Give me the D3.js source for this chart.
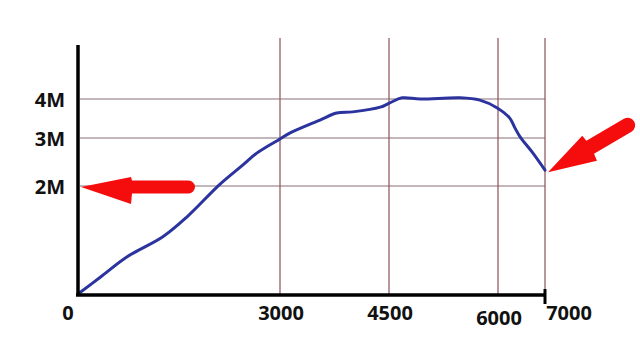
<!DOCTYPE html>
<html>
<head>
<meta charset="utf-8">
<script src="https://cdn.jsdelivr.net/npm/d3@7"></script>
<style>
  html, body { margin: 0; padding: 0; background: #fff; }
  svg { display: block; }
  text { font-family: "Open Sans", "Liberation Sans", sans-serif; font-weight: bold; fill: #111; }
</style>
</head>
<body>
<svg id="chart" width="640" height="360"></svg>
<script>
// data
const rpm = [0, 330, 730, 1260, 1620, 2110, 2450, 2660, 3000, 3140, 3550, 3780, 4000,
  4380, 4510, 4680, 4930, 5480, 5750, 5990, 6250, 6360, 6470, 6740, 7000];
const power = [0, 0.31, 0.69, 1.06, 1.43, 2.04, 2.44, 2.69, 2.98, 3.13, 3.46, 3.64, 3.67,
  3.79, 3.90, 4.03, 4.00, 4.03, 3.97, 3.77, 3.51, 3.26, 3.03, 2.69, 2.33].map(v => v * 1e6);

const xTicks = [0, 3000, 4500, 6000, 7000];
const xTickLabels = ["0", "3000", "4500", "6000", "7000"];
const yTicks = [2e6, 3e6, 4e6];
const yTickLabels = ["2M", "3M", "4M"];

const svg = d3.select("#chart");

// the hand drawn axes are not evenly spaced, so piecewise scales
const x = d3.scaleLinear()
  .domain([0, 3000, 4500, 6000, 7000])
  .range([78, 280, 389, 498, 545]);
const y = d3.scaleLinear()
  .domain([0, 2e6, 3e6, 4e6])
  .range([294, 186, 138, 99]);

const gridTop = 38;

// horizontal grid
svg.append("g")
  .selectAll("line")
  .data(yTicks)
  .join("line")
  .attr("x1", x(0) + 2)
  .attr("x2", x(7000))
  .attr("y1", d => y(d))
  .attr("y2", d => y(d))
  .attr("stroke", "#8a7078")
  .attr("stroke-width", 1.2);

// vertical grid
svg.append("g")
  .selectAll("line")
  .data(xTicks.slice(1))
  .join("line")
  .attr("x1", d => x(d))
  .attr("x2", d => x(d))
  .attr("y1", gridTop)
  .attr("y2", y(0))
  .attr("stroke", "#8a5058")
  .attr("stroke-width", 1.2);

// curve
const pts = rpm.map((r, i) => [r, power[i]]);
svg.append("path")
  .datum(pts)
  .attr("fill", "none")
  .attr("stroke", "#2a339e")
  .attr("stroke-width", 3)
  .attr("stroke-linejoin", "round")
  .attr("stroke-linecap", "round")
  .attr("d", d3.line()
    .x(d => x(d[0]))
    .y(d => y(d[1]))
    .curve(d3.curveCatmullRom));

// axes
svg.append("line")
  .attr("x1", x(0)).attr("x2", x(0))
  .attr("y1", 45).attr("y2", y(0) + 2)
  .attr("stroke", "#000").attr("stroke-width", 3.5);
svg.append("line")
  .attr("x1", x(0) - 2).attr("x2", x(7000))
  .attr("y1", y(0) + 1).attr("y2", y(0) + 1)
  .attr("stroke", "#000").attr("stroke-width", 3.5);
svg.append("line")
  .attr("x1", x(7000)).attr("x2", x(7000))
  .attr("y1", y(0) - 5).attr("y2", y(0) + 10)
  .attr("stroke", "#000").attr("stroke-width", 3);

// y labels
svg.append("g")
  .selectAll("text")
  .data(yTicks)
  .join("text")
  .attr("x", 65)
  .attr("y", d => y(d) + 1)
  .attr("dy", "0.36em")
  .attr("text-anchor", "end")
  .attr("font-size", 20)
  .text((d, i) => yTickLabels[i]);

// x labels
svg.append("g")
  .selectAll("text")
  .data(xTicks)
  .join("text")
  .attr("x", d => d === 0 ? x(d) - 10 : d === 7000 ? x(d) + 24 : x(d) + 1)
  .attr("y", d => d === 6000 ? y(0) + 24 : y(0) + 19)
  .attr("dy", "0.36em")
  .attr("text-anchor", "middle")
  .attr("font-size", 20)
  .text((d, i) => xTickLabels[i]);

// red arrows
function arrow(tx, ty, angle, len, headLen, headUp, headDown, shaft) {
  const r = shaft / 2;
  const p = d3.path();
  p.moveTo(0, 0);
  p.lineTo(headLen, -headUp);
  p.lineTo(headLen + 1, -r);
  p.lineTo(len - r, -r);
  p.arc(len - r, 0, r, -Math.PI / 2, Math.PI / 2);
  p.lineTo(headLen + 1, r);
  p.lineTo(headLen, headDown);
  p.closePath();
  svg.append("path")
    .attr("d", p.toString())
    .attr("transform", `translate(${tx},${ty}) rotate(${angle})`)
    .attr("fill", "#f50d0d");
}
arrow(x(0) + 3, y(2e6) + 1, 0, 114, 50, 10, 17, 13);
arrow(x(7000) + 3, y(2.33e6) + 2, -30.5, 100, 48, 14, 15, 15);
</script>
</body>
</html>
